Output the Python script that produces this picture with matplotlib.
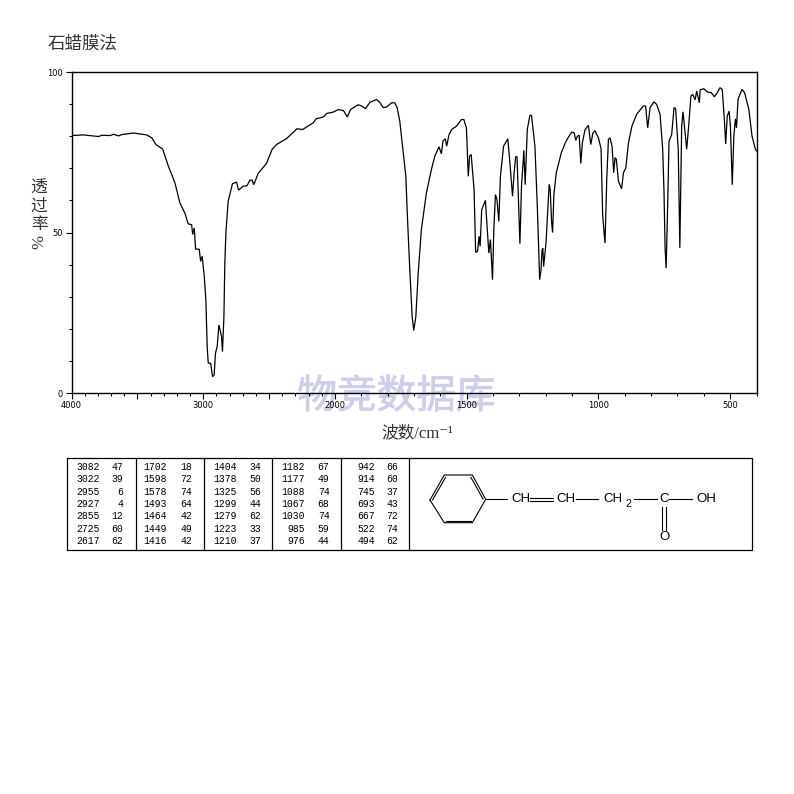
import numpy as np
import matplotlib
matplotlib.use('Agg')
import matplotlib.pyplot as plt
import matplotlib.patheffects as pe

CJK = ['Noto Sans CJK SC', 'DejaVu Sans']
SERIF = ['Liberation Serif', 'Noto Sans CJK SC', 'DejaVu Sans']

# spectrum: wavenumber, transmittance
wavenumber = [4000, 3909, 3795, 3770, 3706, 3681, 3643, 3618, 3530, 3429, 3391, 3359, 3308, 3265, 3215, 3177,
              3139, 3114, 3088, 3080, 3068, 3058, 3030, 3020, 3008, 2992, 2980, 2970, 2962, 2944, 2929, 2917,
              2907, 2894, 2881, 2861, 2854, 2843, 2836, 2828, 2811, 2778, 2747, 2732, 2697, 2667, 2646, 2629,
              2616, 2583, 2520, 2477, 2444, 2369, 2306, 2290, 2245, 2164, 2144, 2088, 2063, 2013, 1987, 1968,
              1953, 1941, 1912, 1899, 1884, 1867, 1842, 1830, 1817, 1804, 1785, 1773, 1764, 1754, 1741, 1731,
              1725, 1716, 1707, 1701, 1693, 1684, 1672, 1653, 1634, 1621, 1605, 1596, 1590, 1581, 1576, 1567,
              1557, 1539, 1520, 1511, 1501, 1494, 1489, 1483, 1472, 1466, 1459, 1453, 1449, 1443, 1429, 1421,
              1416, 1410, 1402, 1397, 1391, 1385, 1378, 1372, 1360, 1344, 1336, 1326, 1320, 1314, 1309, 1298,
              1292, 1283, 1278, 1270, 1260, 1254, 1241, 1232, 1223, 1218, 1214, 1211, 1208, 1199, 1192, 1187,
              1183, 1178, 1174, 1169, 1160, 1141, 1126, 1114, 1101, 1092, 1086, 1080, 1073, 1067, 1061, 1051,
              1038, 1029, 1021, 1013, 1000, 990, 984, 979, 975, 968, 962, 956, 948, 942, 937, 932,
              924, 912, 905, 896, 886, 873, 855, 830, 821, 813, 804, 789, 779, 766, 756, 751,
              747, 743, 738, 732, 722, 713, 707, 697, 691, 689, 684, 679, 674, 665, 656, 649,
              642, 633, 627, 617, 614, 600, 587, 571, 560, 549, 539, 530, 522, 517, 511, 504,
              499, 492, 486, 480, 476, 470, 455, 445, 429, 417, 404, 400]
transmittance = [80.2, 80.4, 79.9, 80.3, 80.2, 80.6, 80.1, 80.5, 81.0, 80.4, 79.5, 77.4, 76.0, 70.7, 65.5, 59.2,
                 56.0, 52.7, 52.4, 49.4, 51.4, 44.8, 44.8, 41.0, 42.6, 36.3, 29.0, 14.5, 9.3, 9.3, 5.1, 5.6,
                 12.4, 14.5, 21.2, 17.6, 12.9, 23.8, 40.5, 49.8, 59.7, 65.2, 65.7, 63.2, 64.4, 64.6, 66.3, 66.3,
                 64.9, 68.4, 71.5, 75.9, 77.4, 79.2, 81.6, 82.3, 82.1, 84.2, 85.4, 86.0, 87.1, 87.5, 88.3, 88.0,
                 86.0, 88.3, 89.8, 89.4, 88.6, 90.6, 91.4, 90.6, 88.9, 89.1, 90.4, 90.4, 88.9, 84.7, 74.8, 67.5,
                 55.0, 38.4, 23.8, 19.5, 23.8, 37.4, 50.9, 62.3, 69.6, 73.8, 76.7, 74.5, 78.5, 79.2, 76.9, 80.5,
                 82.1, 83.1, 85.2, 85.2, 82.6, 67.5, 73.8, 74.3, 63.4, 43.8, 44.1, 48.8, 45.7, 57.1, 60.0, 49.8,
                 43.6, 47.8, 35.3, 50.9, 61.8, 60.2, 53.5, 67.5, 76.9, 79.2, 71.7, 61.3, 68.6, 73.6, 73.6, 46.5,
                 64.4, 75.6, 64.9, 82.1, 86.5, 86.5, 76.9, 58.2, 35.3, 38.2, 44.6, 45.1, 39.4, 46.7, 57.1, 65.0,
                 63.4, 53.6, 50.0, 61.8, 68.6, 74.8, 77.9, 79.7, 81.3, 81.0, 78.7, 80.0, 80.3, 71.5, 77.9, 82.0,
                 83.4, 77.4, 81.0, 81.7, 79.5, 76.1, 55.6, 50.4, 46.7, 67.5, 79.0, 79.5, 76.7, 68.6, 73.3, 72.8,
                 66.0, 63.6, 68.6, 70.1, 77.9, 83.1, 86.8, 89.4, 89.4, 82.6, 88.9, 90.7, 89.9, 86.8, 75.9, 62.3,
                 45.2, 38.9, 55.6, 78.5, 80.5, 88.9, 88.6, 75.9, 45.2, 56.4, 83.1, 87.6, 83.6, 75.9, 84.7, 92.5,
                 93.0, 91.3, 94.1, 90.4, 94.4, 94.8, 93.8, 93.5, 92.3, 93.5, 95.1, 94.6, 85.2, 77.6, 86.3, 87.8,
                 83.1, 64.9, 80.0, 85.4, 82.6, 91.5, 94.6, 93.5, 88.3, 80.0, 75.9, 75.4]

x_major = [4000, 3500, 3000, 2500, 2000, 1500, 1000, 500]
x_labels = ['4000', '', '3000', '', '2000', '1500', '1000', '500']
y_major = [0, 50, 100]

# peak table, one pair of lists per column
peak_wn = [[3082, 3022, 2955, 2927, 2855, 2725, 2617],
           [1702, 1598, 1578, 1493, 1464, 1449, 1416],
           [1404, 1378, 1325, 1299, 1279, 1223, 1210],
           [1182, 1177, 1088, 1067, 1030, 985, 976],
           [942, 914, 745, 693, 667, 522, 494]]
peak_t = [[47, 39, 6, 4, 12, 60, 62],
          [18, 72, 74, 64, 42, 49, 42],
          [34, 50, 56, 44, 62, 33, 37],
          [67, 49, 74, 68, 74, 59, 44],
          [66, 60, 37, 43, 72, 74, 62]]
row_y = [466.7, 479.2, 491.6, 504, 516.4, 528.8, 541.3]
wn_right = [99.5, 167, 236.7, 305, 375]
t_right = [123.5, 192, 261, 329.5, 398]
dividers = [135.5, 203.5, 272, 340.5, 409]

# scale is doubled below 2000 cm-1
def forward(w):
    w = np.asarray(w, dtype=float)
    return np.where(w >= 2000, w, 2 * w - 2000)

def inverse(u):
    u = np.asarray(u, dtype=float)
    return np.where(u >= 2000, u, (u + 2000) / 2)

W = 794.0
fig = plt.figure(figsize=(7.94, 7.94), dpi=100)

# overlay in pixel coordinates for the text and the table, under the spectrum
ov = fig.add_axes([0, 0, 1, 1], zorder=0)
ov.set_xlim(0, W)
ov.set_ylim(W, 0)
ov.axis('off')

ax = fig.add_axes([71.5 / W, 1 - 393 / W, 685 / W, 321 / W], zorder=1)
ax.patch.set_alpha(0)
ax.set_xscale('function', functions=(forward, inverse))
ax.plot(wavenumber, transmittance, color='black', lw=0.9, solid_joinstyle='miter')
ax.set_xlim(4000, 400)
ax.set_ylim(0, 100)
ax.set_xticks(x_major, x_labels)
ax.set_xticks(np.arange(400, 4000, 100), minor=True)
ax.set_yticks(y_major, ['0', '50', '100'])
ax.set_yticks(np.arange(0, 101, 10), minor=True)
ax.tick_params(which='major', length=4.5, width=0.8, labelsize=6, pad=1.5)
ax.tick_params(which='minor', length=2.2, width=0.8)
for s in ax.spines.values():
    s.set_linewidth(1.0)

ov.text(48, 44, '石蜡膜法', family=CJK, fontsize=12.6, va='center', ha='left', color='#333333')
for ch, yy in zip('透过率', [188, 206, 224]):
    ov.text(39, yy, ch, family=CJK, fontsize=12, ha='center', va='center', color='#333333')
ov.text(39, 242, '%', family=SERIF, fontsize=12, ha='center', va='center', rotation=90, color='#333333')
ov.text(417.5, 433, '波数/cm⁻¹', family=SERIF, fontsize=12, ha='center', va='center', color='#333333')
ov.text(396.5, 397, '物竞数据库', family=CJK, fontsize=28.5, ha='center', va='center', color='#cdcdee',
        path_effects=[pe.withStroke(linewidth=0.5, foreground='#cdcdee')])

# table frame
ov.plot([67, 751.5, 751.5, 67, 67], [458, 458, 550, 550, 458], color='black', lw=0.9)
for d in dividers:
    ov.plot([d, d], [458, 550], color='black', lw=0.9)
for c in range(5):
    for r, yy in enumerate(row_y):
        ov.text(wn_right[c], yy, str(peak_wn[c][r]), family='Liberation Mono', fontsize=7,
                ha='right', va='center')
        ov.text(t_right[c], yy, str(peak_t[c][r]), family='Liberation Mono', fontsize=7,
                ha='right', va='center')

# structure of the molecule
ring_x = [430, 444.3, 472.3, 485.7, 472.3, 444.3, 430]
ring_y = [500, 475, 475, 499.3, 522.7, 522.7, 500]
ov.plot(ring_x, ring_y, color='black', lw=0.8)
ov.plot([432.5, 445.5], [500, 477.5], color='black', lw=0.8)
ov.plot([471, 483], [477.5, 499], color='black', lw=0.8)
ov.plot([445.5, 471], [520.5, 520.5], color='black', lw=0.8)
bond_lw = 0.8
ov.plot([485.7, 507], [499.3, 499.3], color='black', lw=bond_lw)
ov.plot([530, 553], [498, 498], color='black', lw=bond_lw)
ov.plot([530, 553], [501, 501], color='black', lw=bond_lw)
ov.plot([576, 598], [499.3, 499.3], color='black', lw=bond_lw)
ov.plot([634, 657], [499.3, 499.3], color='black', lw=bond_lw)
ov.plot([669, 692], [499.3, 499.3], color='black', lw=bond_lw)
ov.plot([662, 662], [507, 530], color='black', lw=bond_lw)
ov.plot([665.5, 665.5], [507, 530], color='black', lw=bond_lw)
for s, xx, yy in [('CH', 520.5, 499.5), ('CH', 566, 499.5), ('CH', 613, 499.5),
                  ('C', 664, 499.5), ('OH', 706, 499.5), ('O', 664, 537)]:
    ov.text(xx, yy, s, family='Liberation Sans', fontsize=9.5, ha='center', va='center')
ov.text(628, 504, '2', family='Liberation Sans', fontsize=7.5, ha='center', va='center')

fig.savefig('out.png', dpi=100)
